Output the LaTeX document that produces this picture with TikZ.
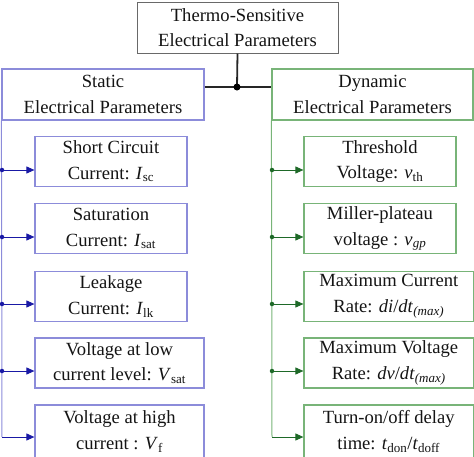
\documentclass[tikz,border=0pt]{standalone}
\usepackage{fontspec}
\setmainfont{Liberation Serif}
\usepackage{tikz}
\usetikzlibrary{arrows.meta}
\definecolor{topline}{RGB}{105,105,105}
\definecolor{staticline}{RGB}{140,140,218}
\definecolor{staticarr}{RGB}{25,25,165}
\definecolor{dynamicline}{RGB}{120,180,120}
\definecolor{dynamicarr}{RGB}{30,105,40}
\definecolor{txt}{RGB}{20,20,20}
\tikzset{
  topbox/.style={draw=topline,line width=1pt,minimum width=201pt,minimum height=51pt,
    inner sep=0pt,align=center,text=txt},
  statbox/.style={draw=staticline,line width=1.2pt,minimum height=50pt,
    inner sep=0pt,align=center,text=txt},
  dynbox/.style={draw=dynamicline,line width=1.2pt,minimum height=50pt,
    inner sep=0pt,align=center,text=txt},
  trunk/.style={line width=1.8pt,draw=black!85},
  statlink/.style={line width=1pt,draw=staticline},
  dynlink/.style={line width=1pt,draw=dynamicline},
  statarr/.style={-{Triangle[length=8pt,width=7pt]},line width=0.9pt,staticarr},
  dynarr/.style={-{Triangle[length=8pt,width=7pt]},line width=0.9pt,dynamicarr},
  statdot/.style={circle,fill=staticarr,inner sep=0pt,minimum size=4.5pt},
  dyndot/.style={circle,fill=dynamicarr,inner sep=0pt,minimum size=4.5pt}
}

\begin{document}
\begin{tikzpicture}[x=1pt,y=-1pt,
  every node/.style={font=\fontsize{18.6}{25.5}\selectfont}]
\useasboundingbox (0,0) rectangle (474,456);

% Top level
\node[topbox] (tsep) at (237.5,27.5) {Thermo-Sensitive\\Electrical Parameters};

% Two groups
\node[statbox,minimum width=202pt,minimum height=51pt] (static) at (103,94.5)
  {Static\\Electrical Parameters};
\node[dynbox,minimum width=201pt,minimum height=51pt] (dynamic) at (372.5,94.5)
  {Dynamic\\Electrical Parameters};

% Junction
\coordinate (jn) at (237,87);
\draw[trunk] (tsep.south) -- (jn);
\draw[trunk] (static.east |- jn) -- (dynamic.west |- jn);
\node[circle,fill=black,inner sep=0pt,minimum size=7pt] (jdot) at (jn) {};

% Static parameters
\node[statbox,minimum width=152pt] (isc) at (111,161.5) {Short Circuit\\Current: \textit{I}\textsubscript{sc}};
\node[statbox,minimum width=152pt] (isat) at (111,228.5) {Saturation\\Current: \textit{I}\textsubscript{sat}};
\node[statbox,minimum width=152pt] (ilk) at (111,296.5) {Leakage\\Current: \textit{I}\textsubscript{lk}};
\node[statbox,minimum width=169pt] (vsat) at (119.5,363) {Voltage at low\\current level: \textit{V}\textsubscript{sat}};
\node[statbox,minimum width=169pt,minimum height=53pt] (vf) at (119.5,431.5) {Voltage at high\\current : \textit{V}\textsubscript{f}};

% Dynamic parameters
\node[dynbox,minimum width=152pt] (vth) at (380,161.5) {Threshold\\Voltage: \textit{v}\textsubscript{th}};
\node[dynbox,minimum width=152pt] (vgp) at (380,228.5) {Miller-plateau\\voltage : \textit{v}\textsubscript{\textit{gp}}};
\node[dynbox,minimum width=169.5pt] (didt) at (388.75,296.5) {Maximum Current\\Rate: \textit{di}/\textit{dt}\textsubscript{\textit{(max)}}};
\node[dynbox,minimum width=169.5pt] (dvdt) at (388.75,363) {Maximum Voltage\\Rate: \textit{dv}/\textit{dt}\textsubscript{\textit{(max)}}};
\node[dynbox,minimum width=169.5pt,minimum height=53pt] (tdel) at (388.75,431.5) {Turn-on/off delay\\time: \textit{t}\textsubscript{don}/\textit{t}\textsubscript{doff}};

% Static branch
\coordinate (s1) at (2,170);
\coordinate (s2) at (2,237);
\coordinate (s3) at (2,304);
\coordinate (s4) at (2,371);
\coordinate (s5) at (2,437);
\draw[statlink] (static.south west) -- (s5);
\draw[statarr] (s1) -- (s1 -| isc.west);
\draw[statarr] (s2) -- (s2 -| isat.west);
\draw[statarr] (s3) -- (s3 -| ilk.west);
\draw[statarr] (s4) -- (s4 -| vsat.west);
\draw[statarr] (s5) -- (s5 -| vf.west);
\node[statdot] (sd1) at (s1) {};
\node[statdot] (sd2) at (s2) {};
\node[statdot] (sd3) at (s3) {};
\node[statdot] (sd4) at (s4) {};

% Dynamic branch
\coordinate (d1) at (272,170);
\coordinate (d2) at (272,237);
\coordinate (d3) at (272,304);
\coordinate (d4) at (272,371);
\coordinate (d5) at (272,437);
\draw[dynlink] (dynamic.south west) -- (d5);
\draw[dynarr] (d1) -- (d1 -| vth.west);
\draw[dynarr] (d2) -- (d2 -| vgp.west);
\draw[dynarr] (d3) -- (d3 -| didt.west);
\draw[dynarr] (d4) -- (d4 -| dvdt.west);
\draw[dynarr] (d5) -- (d5 -| tdel.west);
\node[dyndot] (dd1) at (d1) {};
\node[dyndot] (dd2) at (d2) {};
\node[dyndot] (dd3) at (d3) {};
\node[dyndot] (dd4) at (d4) {};

\end{tikzpicture}
\end{document}
